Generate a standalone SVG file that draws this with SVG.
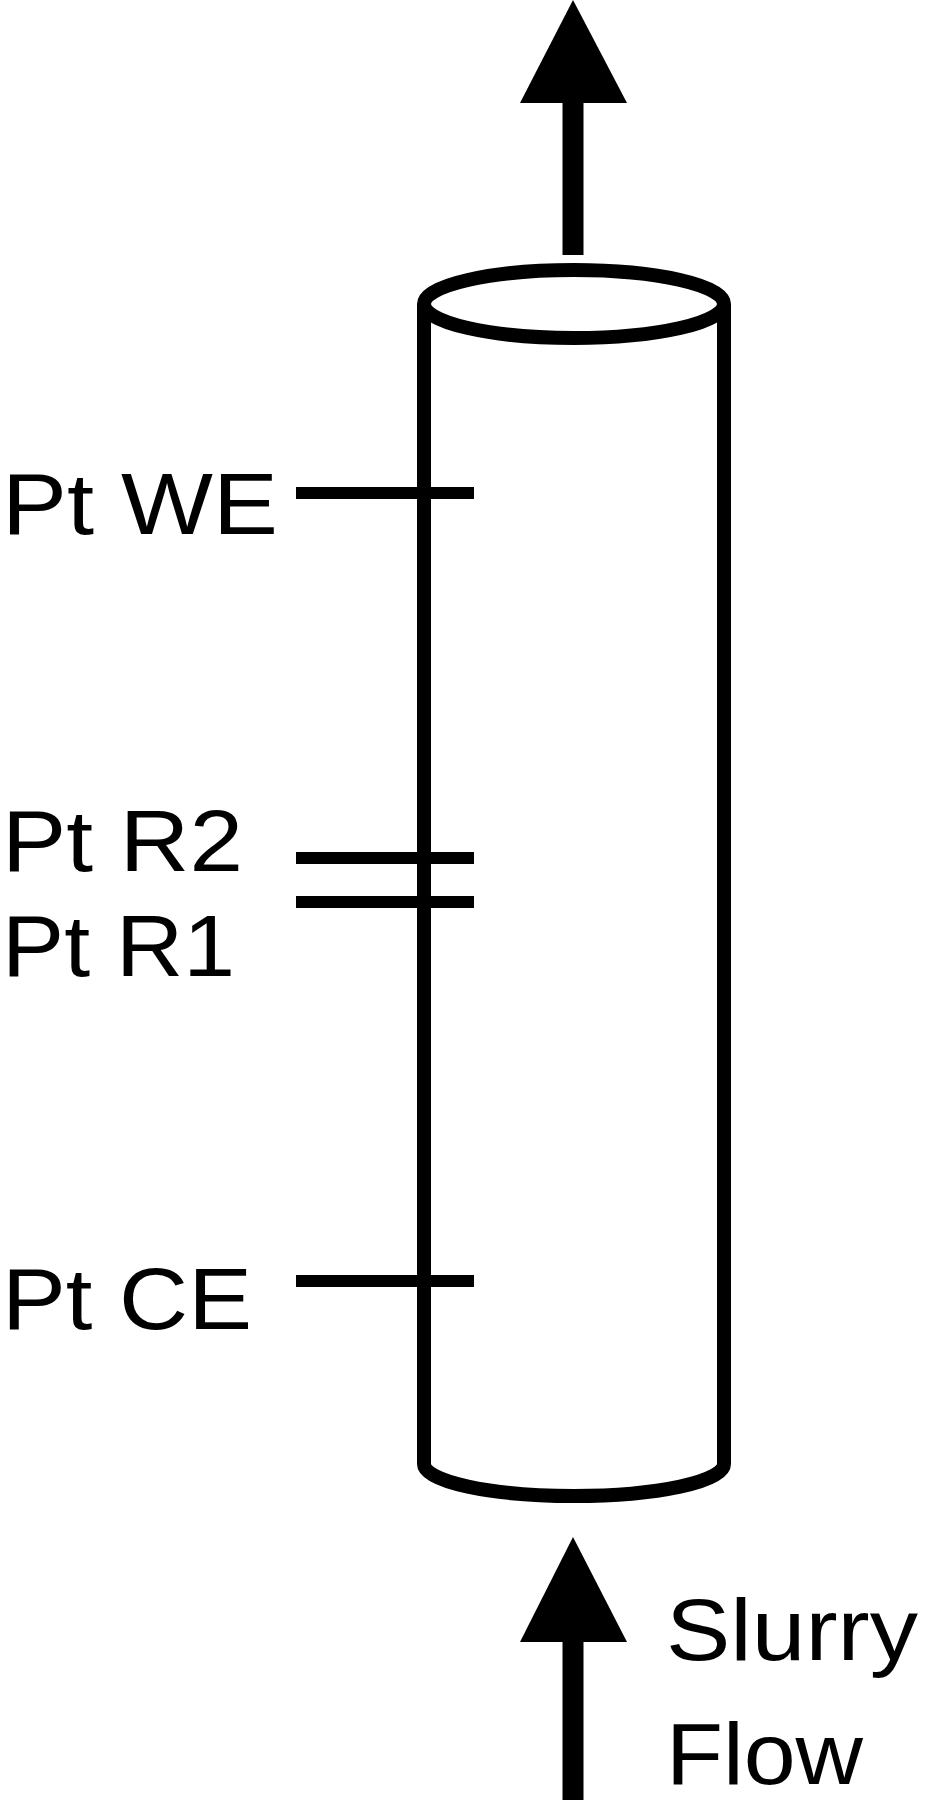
<svg xmlns="http://www.w3.org/2000/svg" width="928" height="1800" viewBox="0 0 928 1800">
<style>
.t{font-family:"Liberation Sans",Arial,sans-serif;font-size:88px;fill:#000}
.s{stroke:#000;fill:none}
</style>
<rect width="928" height="1800" fill="#fff"/>
<g id="tube">
<path class="s" stroke-width="14" d="M424,304 V1464 A150,32 0 0 0 724,1464 V304"/>
<ellipse class="s" stroke-width="14" cx="574" cy="304" rx="150" ry="34"/>
</g>
<g id="connectors">
<path class="s" stroke-width="21" d="M573,255 V100"/>
<polygon points="573,0 520,103 627,103"/>
<path class="s" stroke-width="21" d="M573,1800 V1640"/>
<polygon points="573,1537 520,1642 627,1642"/>
<g class="s" stroke-width="12">
<path d="M296,493 H474"/>
<path d="M296,858 H474"/>
<path d="M296,902 H474"/>
<path d="M296,1281 H474"/>
</g>
</g>
<g id="labels">
<text class="t" x="2" y="534" textLength="276" lengthAdjust="spacingAndGlyphs">Pt WE</text>
<text class="t" x="2" y="871" textLength="241" lengthAdjust="spacingAndGlyphs">Pt R2</text>
<text class="t" x="2" y="976" textLength="233" lengthAdjust="spacingAndGlyphs">Pt R1</text>
<text class="t" x="2" y="1329" textLength="250" lengthAdjust="spacingAndGlyphs">Pt CE</text>
<text class="t" x="666" y="1660" textLength="252" lengthAdjust="spacingAndGlyphs">Slurry</text>
<text class="t" x="666" y="1784" textLength="197" lengthAdjust="spacingAndGlyphs">Flow</text>
</g>
</svg>
